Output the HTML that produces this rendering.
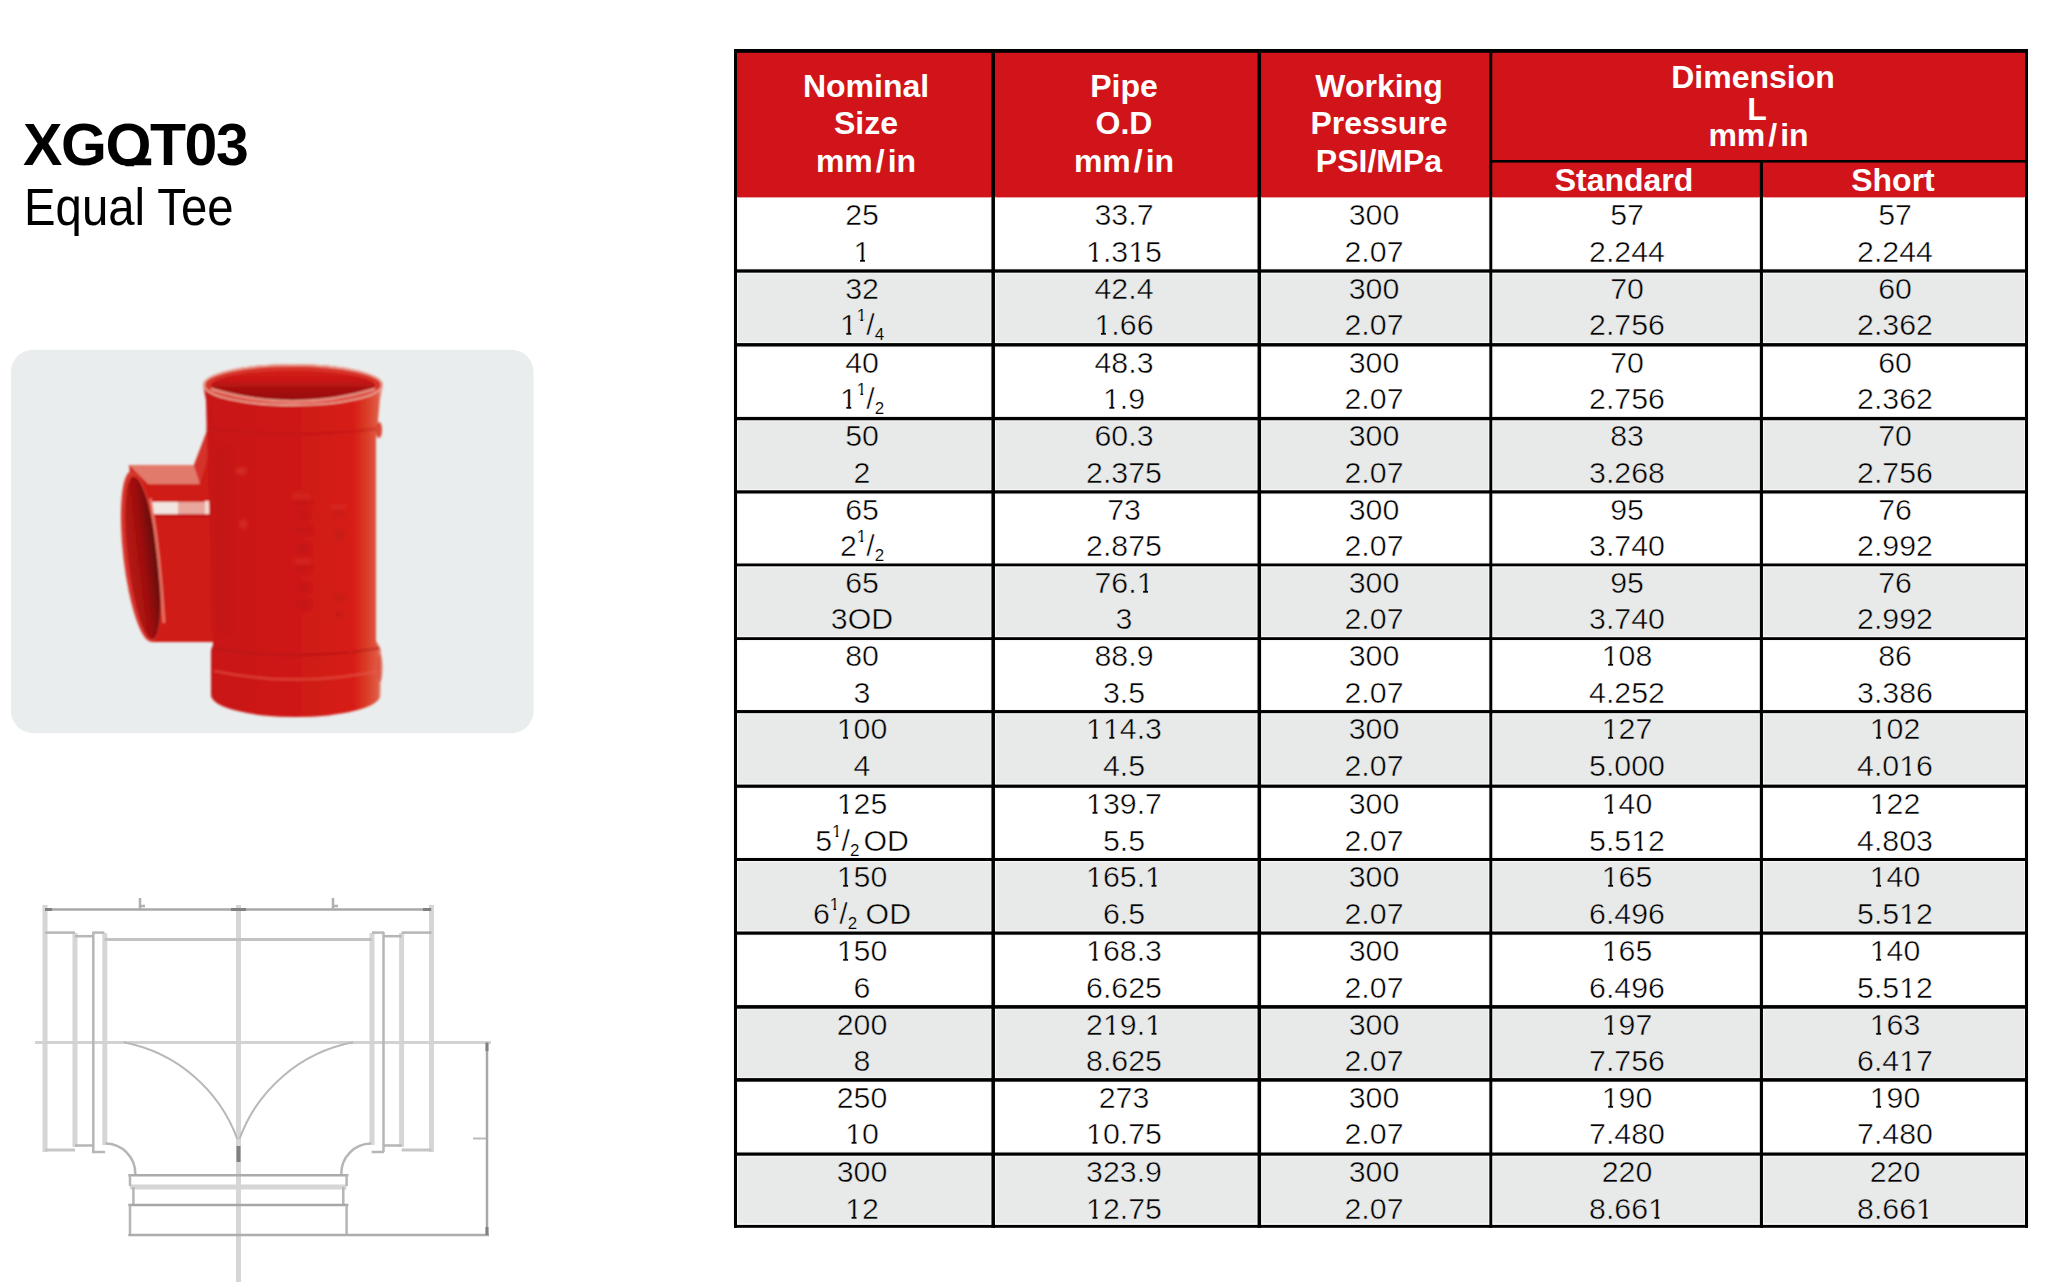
<!DOCTYPE html>
<html><head><meta charset="utf-8">
<style>
html,body{margin:0;padding:0;background:#fff;width:2048px;height:1282px;overflow:hidden;position:relative}
body{font-family:"Liberation Sans",sans-serif}
.r{position:absolute}
.k{background:#000}
.t{position:absolute;width:400px;text-align:center;white-space:nowrap}
.sup{font-size:17px;position:relative;top:-14px;line-height:0;-webkit-text-stroke-width:0.15px}
.sub{font-size:17px;position:relative;top:5px;line-height:0;-webkit-text-stroke-width:0.15px}
.title{position:absolute;white-space:nowrap}
.o{display:inline-block;line-height:1em;clip-path:polygon(0 0,100% 0,100% 0.715em,0.375em 0.715em,0.375em 100%,0.215em 100%,0.215em 0.715em,0 0.715em)}
</style></head><body>
<svg style="position:absolute;left:0;top:0" width="700" height="1282" viewBox="0 0 700 1282">
<defs>
<linearGradient id="gb" x1="0" x2="1" y1="0" y2="0">
<stop offset="0" stop-color="#C81613"/><stop offset="0.2" stop-color="#CB1815"/><stop offset="0.6" stop-color="#D01A17"/><stop offset="0.84" stop-color="#D81E19"/><stop offset="0.9" stop-color="#D93A24"/><stop offset="0.97" stop-color="#E05A44"/><stop offset="1" stop-color="#E8B8AC"/>
</linearGradient>
<linearGradient id="gi" x1="0" x2="0" y1="0" y2="1">
<stop offset="0" stop-color="#D41C1A"/><stop offset="0.35" stop-color="#C81816"/><stop offset="0.6" stop-color="#A81010"/><stop offset="1" stop-color="#960D0D"/>
</linearGradient>
<linearGradient id="gbo" x1="0" x2="1" y1="0" y2="0">
<stop offset="0" stop-color="#B81513"/><stop offset="0.5" stop-color="#A01010"/><stop offset="0.8" stop-color="#7A0B0B"/><stop offset="1" stop-color="#5E0808"/>
</linearGradient>
<filter id="soft" x="-5%" y="-5%" width="110%" height="110%"><feGaussianBlur stdDeviation="0.9"/></filter>
<filter id="soft2" x="-50%" y="-50%" width="200%" height="200%"><feGaussianBlur stdDeviation="2"/></filter>
</defs>
<rect x="11" y="349.8" width="522.5" height="383.4" rx="22" fill="#EAEDED"/>
<g filter="url(#soft)">
<!-- branch -->
<path d="M129,465 L194,465 L208,428 L216,428 L216,642 L151,642 Z" fill="#D01B17"/>
<path d="M129,465 L194,465 L200,484 L148,484 Z" fill="#E27A6C"/>
<path d="M194,465 L208,430 L210,450 L200,484 Z" fill="#D63A30" opacity="0.8"/>
<rect x="151" y="502" width="27" height="12" fill="#F2E6E0"/>
<rect x="178" y="502" width="27" height="12" fill="#E8A69C"/>
<rect x="205" y="501" width="13" height="13" fill="#F4DCD2"/>
<rect x="151" y="514" width="60" height="4" fill="#C01512" opacity="0.7"/>
<g transform="rotate(-6.7 141.4 556.4)">
<ellipse cx="141.4" cy="556.4" rx="18" ry="86" fill="#D8342C"/>
<ellipse cx="142.6" cy="558" rx="15" ry="82" fill="url(#gbo)"/>
<path d="M157,500 Q160,556 156,625" fill="none" stroke="#E87868" stroke-width="2.5"/>
</g>
<!-- main pipe -->
<path d="M203,385 L206,400 L207,440 L213,636 L213,645 L211,650 L211,695 A84.5,22 0 0 0 380.5,695 L381,650 L376,641 L376,440 L380,400 L383,385 Z" fill="url(#gb)"/>
<g fill="#B01412" opacity="0.4" filter="url(#soft2)">
<rect x="296" y="500" width="14" height="5"/><rect x="298" y="512" width="10" height="6"/><rect x="295" y="528" width="16" height="5"/><rect x="297" y="545" width="12" height="8"/><rect x="296" y="566" width="14" height="5"/><rect x="298" y="585" width="11" height="7"/><rect x="296" y="602" width="14" height="6"/>
<rect x="333" y="510" width="12" height="6"/><rect x="335" y="530" width="9" height="10"/><rect x="333" y="595" width="13" height="6"/><rect x="334" y="612" width="10" height="5"/>
</g>
<g fill="#E0483C" opacity="0.5" filter="url(#soft2)">
<rect x="293" y="495" width="18" height="3"/><rect x="295" y="560" width="15" height="3"/><rect x="330" y="506" width="16" height="3"/>
<rect x="236" y="468" width="10" height="6"/><rect x="240" y="520" width="6" height="8"/>
</g>
<rect x="213" y="445" width="22" height="190" fill="#B81412" opacity="0.2" filter="url(#soft2)"/>
<path d="M214,671 Q296,688 379,671" fill="none" stroke="#E86050" stroke-width="2.5" opacity="0.5"/>
<ellipse cx="293" cy="385" rx="90" ry="21" fill="#D8342C"/>
<ellipse cx="293" cy="385" rx="89" ry="20" fill="none" stroke="#EAA494" stroke-width="2"/>
<ellipse cx="293" cy="385.5" rx="82" ry="15" fill="url(#gi)"/>
<path d="M211,389 Q293,414 375,389" fill="none" stroke="#F0A090" stroke-width="2.5" opacity="0.9"/>
<path d="M206,428 Q293,440 381,428" fill="none" stroke="#B81512" stroke-width="3" opacity="0.35"/>
<path d="M212,648 Q296,662 380,648" fill="none" stroke="#B01412" stroke-width="3" opacity="0.4"/>
<ellipse cx="379" cy="430" rx="3" ry="8" fill="#D84A38"/>
<ellipse cx="380" cy="668" rx="2.5" ry="14" fill="#D84A38" opacity="0.7"/>
</g>
<!-- drawing -->
<g fill="none" stroke-linecap="butt">
<g stroke="#D6D6D6" stroke-width="5">
<line x1="45" y1="905" x2="45" y2="1152"/>
<line x1="431.5" y1="905" x2="431.5" y2="1152"/>
<line x1="238.5" y1="905" x2="238.5" y2="1282"/>
<line x1="75" y1="933" x2="75" y2="1147"/>
<line x1="401.6" y1="933" x2="401.6" y2="1147"/>
<line x1="104.8" y1="933" x2="104.8" y2="1145"/>
<line x1="372" y1="933" x2="372" y2="1145"/>
<line x1="130" y1="1187" x2="346.6" y2="1187"/>
</g>
<line x1="35" y1="1042.5" x2="491" y2="1042.5" stroke="#D2D2D2" stroke-width="3"/>
<g stroke="#B6B6B6" stroke-width="2.5">
<line x1="45" y1="909.5" x2="431.5" y2="909.5" stroke="#A8A8A8"/>
<path d="M140,898 V909 M140,906 H145 M333,898 V909 M333,906 H338" stroke="#B0B0B0"/>
<line x1="45" y1="932.6" x2="75" y2="932.6"/>
<line x1="75" y1="936.2" x2="93.3" y2="936.2"/>
<line x1="92.5" y1="932.6" x2="104.4" y2="932.6"/>
<line x1="93.3" y1="932" x2="93.3" y2="1152"/>
<line x1="104.4" y1="939.5" x2="372" y2="939.5" stroke="#C2C2C2" stroke-width="3"/>
<line x1="372" y1="932.6" x2="384" y2="932.6"/>
<line x1="383.5" y1="932" x2="383.5" y2="1152"/>
<line x1="383.5" y1="936.2" x2="401.6" y2="936.2"/>
<line x1="401.6" y1="932.6" x2="431.5" y2="932.6"/>
<line x1="45" y1="1150" x2="75" y2="1150" stroke="#C6C6C6" stroke-width="3"/>
<line x1="75" y1="1145.5" x2="93.3" y2="1145.5"/>
<line x1="92" y1="1152" x2="105" y2="1152"/>
<line x1="401.6" y1="1150" x2="431.5" y2="1150" stroke="#C6C6C6" stroke-width="3"/>
<line x1="383.5" y1="1145.5" x2="401.6" y2="1145.5"/>
<line x1="371.6" y1="1152" x2="384" y2="1152"/>
<path d="M123.6,1042.3 A151.2,151.2 0 0 1 237.3,1139" stroke="#B8B8B8" stroke-width="2"/>
<path d="M353,1042.3 A151.2,151.2 0 0 0 239.5,1139" stroke="#B8B8B8" stroke-width="2"/>
<path d="M105.5,1143.5 A30,30 0 0 1 135.3,1174"/>
<path d="M371,1143.5 A30,30 0 0 0 341.3,1174"/>
<line x1="128.3" y1="1175.3" x2="348.4" y2="1175.3" stroke="#ABABAB"/>
<line x1="130" y1="1175" x2="130" y2="1186"/>
<line x1="346.6" y1="1175" x2="346.6" y2="1186"/>
<line x1="133.4" y1="1187" x2="133.4" y2="1205"/>
<line x1="343.3" y1="1187" x2="343.3" y2="1205"/>
<line x1="128.3" y1="1205" x2="348.4" y2="1205" stroke="#A6A6A6"/>
<line x1="130" y1="1205" x2="130" y2="1235"/>
<line x1="346.6" y1="1205" x2="346.6" y2="1235"/>
<line x1="128.3" y1="1235" x2="489" y2="1235" stroke="#ADADAD"/>
<line x1="487" y1="1042" x2="487" y2="1235" stroke="#A8A8A8"/>
<line x1="473" y1="1138.5" x2="486" y2="1138.5" stroke="#BBBBBB" stroke-width="2"/>
</g>
<g stroke="#808080" stroke-width="3">
<line x1="45" y1="909.5" x2="52" y2="909.5"/>
<line x1="231" y1="909.5" x2="246" y2="909.5"/>
<line x1="423" y1="909.5" x2="431" y2="909.5"/>
<line x1="487" y1="1043" x2="487" y2="1051"/>
<line x1="487" y1="1227" x2="487" y2="1235"/>
<line x1="238.5" y1="1146" x2="238.5" y2="1162" stroke-width="4"/>
</g>
</g>
</svg>

<div class="title" style="left:23px;top:116.3px;font-size:59px;line-height:59px;font-weight:700;letter-spacing:-1.4px;clip-path:inset(0 0 9px 0)">XGQT03</div>
<svg style="position:absolute;left:0;top:0" width="300" height="200"><polygon points="136,158.6 151.2,158.6 151.2,165.2 132,165.2" fill="#000"/></svg>
<div class="title" style="left:24px;top:181.5px;font-size:51px;line-height:51px;transform:scaleX(0.928);transform-origin:0 0">Equal Tee</div>
<svg style="position:absolute;left:0;top:0" width="2048" height="1282"><rect x="734" y="49" width="1294" height="148.4" fill="#D1131A"/><rect x="734" y="271.00" width="1294" height="73.80" fill="#E8EAE9"/><rect x="734" y="418.60" width="1294" height="73.30" fill="#E8EAE9"/><rect x="734" y="564.90" width="1294" height="73.70" fill="#E8EAE9"/><rect x="734" y="711.60" width="1294" height="74.60" fill="#E8EAE9"/><rect x="734" y="859.50" width="1294" height="73.60" fill="#E8EAE9"/><rect x="734" y="1006.90" width="1294" height="73.00" fill="#E8EAE9"/><rect x="734" y="1154.10" width="1294" height="72.20" fill="#E8EAE9"/><rect x="733.00" y="197.4" width="5.00" height="1030" fill="#F6F7F6"/><rect x="990.45" y="197.4" width="5.50" height="1030" fill="#F6F7F6"/><rect x="1256.55" y="197.4" width="5.50" height="1030" fill="#F6F7F6"/><rect x="1488.35" y="197.4" width="4.90" height="1030" fill="#F6F7F6"/><rect x="1758.85" y="197.4" width="5.10" height="1030" fill="#F6F7F6"/><rect x="2024.00" y="197.4" width="5.00" height="1030" fill="#F6F7F6"/><rect x="734" y="268.25" width="1294" height="5.50" fill="#F6F7F6"/><rect x="734" y="342.05" width="1294" height="5.50" fill="#F6F7F6"/><rect x="734" y="415.85" width="1294" height="5.50" fill="#F6F7F6"/><rect x="734" y="489.15" width="1294" height="5.50" fill="#F6F7F6"/><rect x="734" y="562.15" width="1294" height="5.50" fill="#F6F7F6"/><rect x="734" y="635.85" width="1294" height="5.50" fill="#F6F7F6"/><rect x="734" y="708.85" width="1294" height="5.50" fill="#F6F7F6"/><rect x="734" y="783.45" width="1294" height="5.50" fill="#F6F7F6"/><rect x="734" y="856.75" width="1294" height="5.50" fill="#F6F7F6"/><rect x="734" y="930.35" width="1294" height="5.50" fill="#F6F7F6"/><rect x="734" y="1004.15" width="1294" height="5.50" fill="#F6F7F6"/><rect x="734" y="1077.15" width="1294" height="5.50" fill="#F6F7F6"/><rect x="734" y="1151.35" width="1294" height="5.50" fill="#F6F7F6"/><rect x="734" y="1223.60" width="1294" height="4.20" fill="#fff"/><rect x="734" y="49" width="1294" height="3.8" fill="#000"/><rect x="1490" y="160" width="538" height="2.6" fill="#000"/><rect x="734" y="269.35" width="1294" height="3.3" fill="#000"/><rect x="734" y="343.10" width="1294" height="3.4" fill="#000"/><rect x="734" y="416.95" width="1294" height="3.3" fill="#000"/><rect x="734" y="490.30" width="1294" height="3.2" fill="#000"/><rect x="734" y="563.50" width="1294" height="2.8" fill="#000"/><rect x="734" y="637.20" width="1294" height="2.8" fill="#000"/><rect x="734" y="710.05" width="1294" height="3.1" fill="#000"/><rect x="734" y="784.60" width="1294" height="3.2" fill="#000"/><rect x="734" y="858.00" width="1294" height="3.0" fill="#000"/><rect x="734" y="931.50" width="1294" height="3.2" fill="#000"/><rect x="734" y="1005.10" width="1294" height="3.6" fill="#000"/><rect x="734" y="1078.10" width="1294" height="3.6" fill="#000"/><rect x="734" y="1152.50" width="1294" height="3.2" fill="#000"/><rect x="734" y="1224.9" width="1294" height="2.9" fill="#000"/><rect x="734.00" y="49" width="3" height="1178.80" fill="#000"/><rect x="991.45" y="49" width="3.5" height="1178.80" fill="#000"/><rect x="1257.55" y="49" width="3.5" height="1178.80" fill="#000"/><rect x="1489.35" y="49" width="2.9" height="1178.80" fill="#000"/><rect x="1759.85" y="160" width="3.1" height="1067.80" fill="#000"/><rect x="2025.00" y="49" width="3" height="1178.80" fill="#000"/></svg>
<div class="t" style="left:666.0px;top:69.9px;font-size:32px;line-height:32px;font-weight:700;color:#fff;">Nominal</div>
<div class="t" style="left:666.0px;top:107.2px;font-size:32px;line-height:32px;font-weight:700;color:#fff;">Size</div>
<div class="t" style="left:666.0px;top:144.5px;font-size:32px;line-height:32px;font-weight:700;color:#fff;">mm<span style="margin:0 3px">/</span>in</div>
<div class="t" style="left:924.0px;top:69.9px;font-size:32px;line-height:32px;font-weight:700;color:#fff;">Pipe</div>
<div class="t" style="left:924.0px;top:107.2px;font-size:32px;line-height:32px;font-weight:700;color:#fff;">O.D</div>
<div class="t" style="left:924.0px;top:144.5px;font-size:32px;line-height:32px;font-weight:700;color:#fff;">mm<span style="margin:0 3px">/</span>in</div>
<div class="t" style="left:1179.0px;top:69.9px;font-size:32px;line-height:32px;font-weight:700;color:#fff;">Working</div>
<div class="t" style="left:1179.0px;top:107.2px;font-size:32px;line-height:32px;font-weight:700;color:#fff;">Pressure</div>
<div class="t" style="left:1179.0px;top:144.5px;font-size:32px;line-height:32px;font-weight:700;color:#fff;">PSI/MPa</div>
<div class="t" style="left:1553.0px;top:61.1px;font-size:32px;line-height:32px;font-weight:700;color:#fff;">Dimension</div>
<div class="t" style="left:1557.0px;top:92.9px;font-size:32px;line-height:32px;font-weight:700;color:#fff;">L</div>
<div class="t" style="left:1558.5px;top:118.9px;font-size:32px;line-height:32px;font-weight:700;color:#fff;">mm<span style="margin:0 3px">/</span>in</div>
<div class="t" style="left:1424.0px;top:163.6px;font-size:32px;line-height:32px;font-weight:700;color:#fff;">Standard</div>
<div class="t" style="left:1693.0px;top:163.6px;font-size:32px;line-height:32px;font-weight:700;color:#fff;">Short</div>
<div class="t" style="left:662.0px;top:200.2px;font-size:30.3px;line-height:30.3px;font-weight:400;color:#000;-webkit-text-stroke:0.5px #fff;">25</div>
<div class="t" style="left:662.0px;top:236.9px;font-size:30.3px;line-height:30.3px;font-weight:400;color:#000;-webkit-text-stroke:0.5px #fff;"><span class="o">1</span></div>
<div class="t" style="left:924.0px;top:200.2px;font-size:30.3px;line-height:30.3px;font-weight:400;color:#000;-webkit-text-stroke:0.5px #fff;">33.7</div>
<div class="t" style="left:924.0px;top:236.9px;font-size:30.3px;line-height:30.3px;font-weight:400;color:#000;-webkit-text-stroke:0.5px #fff;"><span class="o">1</span>.3<span class="o">1</span>5</div>
<div class="t" style="left:1174.0px;top:200.2px;font-size:30.3px;line-height:30.3px;font-weight:400;color:#000;-webkit-text-stroke:0.5px #fff;">300</div>
<div class="t" style="left:1174.0px;top:236.9px;font-size:30.3px;line-height:30.3px;font-weight:400;color:#000;-webkit-text-stroke:0.5px #fff;">2.07</div>
<div class="t" style="left:1427.0px;top:200.2px;font-size:30.3px;line-height:30.3px;font-weight:400;color:#000;-webkit-text-stroke:0.5px #fff;">57</div>
<div class="t" style="left:1427.0px;top:236.9px;font-size:30.3px;line-height:30.3px;font-weight:400;color:#000;-webkit-text-stroke:0.5px #fff;">2.244</div>
<div class="t" style="left:1695.0px;top:200.2px;font-size:30.3px;line-height:30.3px;font-weight:400;color:#000;-webkit-text-stroke:0.5px #fff;">57</div>
<div class="t" style="left:1695.0px;top:236.9px;font-size:30.3px;line-height:30.3px;font-weight:400;color:#000;-webkit-text-stroke:0.5px #fff;">2.244</div>
<div class="t" style="left:662.0px;top:273.7px;font-size:30.3px;line-height:30.3px;font-weight:400;color:#000;-webkit-text-stroke:0.5px #E8EAE9;">32</div>
<div class="t" style="left:662.0px;top:310.4px;font-size:30.3px;line-height:30.3px;font-weight:400;color:#000;-webkit-text-stroke:0.5px #E8EAE9;"><span class="o">1</span><span class="sup"><span class="o">1</span></span>/<span class="sub">4</span></div>
<div class="t" style="left:924.0px;top:273.7px;font-size:30.3px;line-height:30.3px;font-weight:400;color:#000;-webkit-text-stroke:0.5px #E8EAE9;">42.4</div>
<div class="t" style="left:924.0px;top:310.4px;font-size:30.3px;line-height:30.3px;font-weight:400;color:#000;-webkit-text-stroke:0.5px #E8EAE9;"><span class="o">1</span>.66</div>
<div class="t" style="left:1174.0px;top:273.7px;font-size:30.3px;line-height:30.3px;font-weight:400;color:#000;-webkit-text-stroke:0.5px #E8EAE9;">300</div>
<div class="t" style="left:1174.0px;top:310.4px;font-size:30.3px;line-height:30.3px;font-weight:400;color:#000;-webkit-text-stroke:0.5px #E8EAE9;">2.07</div>
<div class="t" style="left:1427.0px;top:273.7px;font-size:30.3px;line-height:30.3px;font-weight:400;color:#000;-webkit-text-stroke:0.5px #E8EAE9;">70</div>
<div class="t" style="left:1427.0px;top:310.4px;font-size:30.3px;line-height:30.3px;font-weight:400;color:#000;-webkit-text-stroke:0.5px #E8EAE9;">2.756</div>
<div class="t" style="left:1695.0px;top:273.7px;font-size:30.3px;line-height:30.3px;font-weight:400;color:#000;-webkit-text-stroke:0.5px #E8EAE9;">60</div>
<div class="t" style="left:1695.0px;top:310.4px;font-size:30.3px;line-height:30.3px;font-weight:400;color:#000;-webkit-text-stroke:0.5px #E8EAE9;">2.362</div>
<div class="t" style="left:662.0px;top:347.5px;font-size:30.3px;line-height:30.3px;font-weight:400;color:#000;-webkit-text-stroke:0.5px #fff;">40</div>
<div class="t" style="left:662.0px;top:384.2px;font-size:30.3px;line-height:30.3px;font-weight:400;color:#000;-webkit-text-stroke:0.5px #fff;"><span class="o">1</span><span class="sup"><span class="o">1</span></span>/<span class="sub">2</span></div>
<div class="t" style="left:924.0px;top:347.5px;font-size:30.3px;line-height:30.3px;font-weight:400;color:#000;-webkit-text-stroke:0.5px #fff;">48.3</div>
<div class="t" style="left:924.0px;top:384.2px;font-size:30.3px;line-height:30.3px;font-weight:400;color:#000;-webkit-text-stroke:0.5px #fff;"><span class="o">1</span>.9</div>
<div class="t" style="left:1174.0px;top:347.5px;font-size:30.3px;line-height:30.3px;font-weight:400;color:#000;-webkit-text-stroke:0.5px #fff;">300</div>
<div class="t" style="left:1174.0px;top:384.2px;font-size:30.3px;line-height:30.3px;font-weight:400;color:#000;-webkit-text-stroke:0.5px #fff;">2.07</div>
<div class="t" style="left:1427.0px;top:347.5px;font-size:30.3px;line-height:30.3px;font-weight:400;color:#000;-webkit-text-stroke:0.5px #fff;">70</div>
<div class="t" style="left:1427.0px;top:384.2px;font-size:30.3px;line-height:30.3px;font-weight:400;color:#000;-webkit-text-stroke:0.5px #fff;">2.756</div>
<div class="t" style="left:1695.0px;top:347.5px;font-size:30.3px;line-height:30.3px;font-weight:400;color:#000;-webkit-text-stroke:0.5px #fff;">60</div>
<div class="t" style="left:1695.0px;top:384.2px;font-size:30.3px;line-height:30.3px;font-weight:400;color:#000;-webkit-text-stroke:0.5px #fff;">2.362</div>
<div class="t" style="left:662.0px;top:421.3px;font-size:30.3px;line-height:30.3px;font-weight:400;color:#000;-webkit-text-stroke:0.5px #E8EAE9;">50</div>
<div class="t" style="left:662.0px;top:458.0px;font-size:30.3px;line-height:30.3px;font-weight:400;color:#000;-webkit-text-stroke:0.5px #E8EAE9;">2</div>
<div class="t" style="left:924.0px;top:421.3px;font-size:30.3px;line-height:30.3px;font-weight:400;color:#000;-webkit-text-stroke:0.5px #E8EAE9;">60.3</div>
<div class="t" style="left:924.0px;top:458.0px;font-size:30.3px;line-height:30.3px;font-weight:400;color:#000;-webkit-text-stroke:0.5px #E8EAE9;">2.375</div>
<div class="t" style="left:1174.0px;top:421.3px;font-size:30.3px;line-height:30.3px;font-weight:400;color:#000;-webkit-text-stroke:0.5px #E8EAE9;">300</div>
<div class="t" style="left:1174.0px;top:458.0px;font-size:30.3px;line-height:30.3px;font-weight:400;color:#000;-webkit-text-stroke:0.5px #E8EAE9;">2.07</div>
<div class="t" style="left:1427.0px;top:421.3px;font-size:30.3px;line-height:30.3px;font-weight:400;color:#000;-webkit-text-stroke:0.5px #E8EAE9;">83</div>
<div class="t" style="left:1427.0px;top:458.0px;font-size:30.3px;line-height:30.3px;font-weight:400;color:#000;-webkit-text-stroke:0.5px #E8EAE9;">3.268</div>
<div class="t" style="left:1695.0px;top:421.3px;font-size:30.3px;line-height:30.3px;font-weight:400;color:#000;-webkit-text-stroke:0.5px #E8EAE9;">70</div>
<div class="t" style="left:1695.0px;top:458.0px;font-size:30.3px;line-height:30.3px;font-weight:400;color:#000;-webkit-text-stroke:0.5px #E8EAE9;">2.756</div>
<div class="t" style="left:662.0px;top:494.6px;font-size:30.3px;line-height:30.3px;font-weight:400;color:#000;-webkit-text-stroke:0.5px #fff;">65</div>
<div class="t" style="left:662.0px;top:531.3px;font-size:30.3px;line-height:30.3px;font-weight:400;color:#000;-webkit-text-stroke:0.5px #fff;">2<span class="sup"><span class="o">1</span></span>/<span class="sub">2</span></div>
<div class="t" style="left:924.0px;top:494.6px;font-size:30.3px;line-height:30.3px;font-weight:400;color:#000;-webkit-text-stroke:0.5px #fff;">73</div>
<div class="t" style="left:924.0px;top:531.3px;font-size:30.3px;line-height:30.3px;font-weight:400;color:#000;-webkit-text-stroke:0.5px #fff;">2.875</div>
<div class="t" style="left:1174.0px;top:494.6px;font-size:30.3px;line-height:30.3px;font-weight:400;color:#000;-webkit-text-stroke:0.5px #fff;">300</div>
<div class="t" style="left:1174.0px;top:531.3px;font-size:30.3px;line-height:30.3px;font-weight:400;color:#000;-webkit-text-stroke:0.5px #fff;">2.07</div>
<div class="t" style="left:1427.0px;top:494.6px;font-size:30.3px;line-height:30.3px;font-weight:400;color:#000;-webkit-text-stroke:0.5px #fff;">95</div>
<div class="t" style="left:1427.0px;top:531.3px;font-size:30.3px;line-height:30.3px;font-weight:400;color:#000;-webkit-text-stroke:0.5px #fff;">3.740</div>
<div class="t" style="left:1695.0px;top:494.6px;font-size:30.3px;line-height:30.3px;font-weight:400;color:#000;-webkit-text-stroke:0.5px #fff;">76</div>
<div class="t" style="left:1695.0px;top:531.3px;font-size:30.3px;line-height:30.3px;font-weight:400;color:#000;-webkit-text-stroke:0.5px #fff;">2.992</div>
<div class="t" style="left:662.0px;top:567.6px;font-size:30.3px;line-height:30.3px;font-weight:400;color:#000;-webkit-text-stroke:0.5px #E8EAE9;">65</div>
<div class="t" style="left:662.0px;top:604.3px;font-size:30.3px;line-height:30.3px;font-weight:400;color:#000;-webkit-text-stroke:0.5px #E8EAE9;">3OD</div>
<div class="t" style="left:924.0px;top:567.6px;font-size:30.3px;line-height:30.3px;font-weight:400;color:#000;-webkit-text-stroke:0.5px #E8EAE9;">76.<span class="o">1</span></div>
<div class="t" style="left:924.0px;top:604.3px;font-size:30.3px;line-height:30.3px;font-weight:400;color:#000;-webkit-text-stroke:0.5px #E8EAE9;">3</div>
<div class="t" style="left:1174.0px;top:567.6px;font-size:30.3px;line-height:30.3px;font-weight:400;color:#000;-webkit-text-stroke:0.5px #E8EAE9;">300</div>
<div class="t" style="left:1174.0px;top:604.3px;font-size:30.3px;line-height:30.3px;font-weight:400;color:#000;-webkit-text-stroke:0.5px #E8EAE9;">2.07</div>
<div class="t" style="left:1427.0px;top:567.6px;font-size:30.3px;line-height:30.3px;font-weight:400;color:#000;-webkit-text-stroke:0.5px #E8EAE9;">95</div>
<div class="t" style="left:1427.0px;top:604.3px;font-size:30.3px;line-height:30.3px;font-weight:400;color:#000;-webkit-text-stroke:0.5px #E8EAE9;">3.740</div>
<div class="t" style="left:1695.0px;top:567.6px;font-size:30.3px;line-height:30.3px;font-weight:400;color:#000;-webkit-text-stroke:0.5px #E8EAE9;">76</div>
<div class="t" style="left:1695.0px;top:604.3px;font-size:30.3px;line-height:30.3px;font-weight:400;color:#000;-webkit-text-stroke:0.5px #E8EAE9;">2.992</div>
<div class="t" style="left:662.0px;top:641.3px;font-size:30.3px;line-height:30.3px;font-weight:400;color:#000;-webkit-text-stroke:0.5px #fff;">80</div>
<div class="t" style="left:662.0px;top:678.0px;font-size:30.3px;line-height:30.3px;font-weight:400;color:#000;-webkit-text-stroke:0.5px #fff;">3</div>
<div class="t" style="left:924.0px;top:641.3px;font-size:30.3px;line-height:30.3px;font-weight:400;color:#000;-webkit-text-stroke:0.5px #fff;">88.9</div>
<div class="t" style="left:924.0px;top:678.0px;font-size:30.3px;line-height:30.3px;font-weight:400;color:#000;-webkit-text-stroke:0.5px #fff;">3.5</div>
<div class="t" style="left:1174.0px;top:641.3px;font-size:30.3px;line-height:30.3px;font-weight:400;color:#000;-webkit-text-stroke:0.5px #fff;">300</div>
<div class="t" style="left:1174.0px;top:678.0px;font-size:30.3px;line-height:30.3px;font-weight:400;color:#000;-webkit-text-stroke:0.5px #fff;">2.07</div>
<div class="t" style="left:1427.0px;top:641.3px;font-size:30.3px;line-height:30.3px;font-weight:400;color:#000;-webkit-text-stroke:0.5px #fff;"><span class="o">1</span>08</div>
<div class="t" style="left:1427.0px;top:678.0px;font-size:30.3px;line-height:30.3px;font-weight:400;color:#000;-webkit-text-stroke:0.5px #fff;">4.252</div>
<div class="t" style="left:1695.0px;top:641.3px;font-size:30.3px;line-height:30.3px;font-weight:400;color:#000;-webkit-text-stroke:0.5px #fff;">86</div>
<div class="t" style="left:1695.0px;top:678.0px;font-size:30.3px;line-height:30.3px;font-weight:400;color:#000;-webkit-text-stroke:0.5px #fff;">3.386</div>
<div class="t" style="left:662.0px;top:714.3px;font-size:30.3px;line-height:30.3px;font-weight:400;color:#000;-webkit-text-stroke:0.5px #E8EAE9;"><span class="o">1</span>00</div>
<div class="t" style="left:662.0px;top:751.0px;font-size:30.3px;line-height:30.3px;font-weight:400;color:#000;-webkit-text-stroke:0.5px #E8EAE9;">4</div>
<div class="t" style="left:924.0px;top:714.3px;font-size:30.3px;line-height:30.3px;font-weight:400;color:#000;-webkit-text-stroke:0.5px #E8EAE9;"><span class="o">1</span><span class="o">1</span>4.3</div>
<div class="t" style="left:924.0px;top:751.0px;font-size:30.3px;line-height:30.3px;font-weight:400;color:#000;-webkit-text-stroke:0.5px #E8EAE9;">4.5</div>
<div class="t" style="left:1174.0px;top:714.3px;font-size:30.3px;line-height:30.3px;font-weight:400;color:#000;-webkit-text-stroke:0.5px #E8EAE9;">300</div>
<div class="t" style="left:1174.0px;top:751.0px;font-size:30.3px;line-height:30.3px;font-weight:400;color:#000;-webkit-text-stroke:0.5px #E8EAE9;">2.07</div>
<div class="t" style="left:1427.0px;top:714.3px;font-size:30.3px;line-height:30.3px;font-weight:400;color:#000;-webkit-text-stroke:0.5px #E8EAE9;"><span class="o">1</span>27</div>
<div class="t" style="left:1427.0px;top:751.0px;font-size:30.3px;line-height:30.3px;font-weight:400;color:#000;-webkit-text-stroke:0.5px #E8EAE9;">5.000</div>
<div class="t" style="left:1695.0px;top:714.3px;font-size:30.3px;line-height:30.3px;font-weight:400;color:#000;-webkit-text-stroke:0.5px #E8EAE9;"><span class="o">1</span>02</div>
<div class="t" style="left:1695.0px;top:751.0px;font-size:30.3px;line-height:30.3px;font-weight:400;color:#000;-webkit-text-stroke:0.5px #E8EAE9;">4.0<span class="o">1</span>6</div>
<div class="t" style="left:662.0px;top:788.9px;font-size:30.3px;line-height:30.3px;font-weight:400;color:#000;-webkit-text-stroke:0.5px #fff;"><span class="o">1</span>25</div>
<div class="t" style="left:662.0px;top:825.6px;font-size:30.3px;line-height:30.3px;font-weight:400;color:#000;-webkit-text-stroke:0.5px #fff;">5<span class="sup"><span class="o">1</span></span>/<span class="sub">2</span><span style="margin-left:4px">OD</span></div>
<div class="t" style="left:924.0px;top:788.9px;font-size:30.3px;line-height:30.3px;font-weight:400;color:#000;-webkit-text-stroke:0.5px #fff;"><span class="o">1</span>39.7</div>
<div class="t" style="left:924.0px;top:825.6px;font-size:30.3px;line-height:30.3px;font-weight:400;color:#000;-webkit-text-stroke:0.5px #fff;">5.5</div>
<div class="t" style="left:1174.0px;top:788.9px;font-size:30.3px;line-height:30.3px;font-weight:400;color:#000;-webkit-text-stroke:0.5px #fff;">300</div>
<div class="t" style="left:1174.0px;top:825.6px;font-size:30.3px;line-height:30.3px;font-weight:400;color:#000;-webkit-text-stroke:0.5px #fff;">2.07</div>
<div class="t" style="left:1427.0px;top:788.9px;font-size:30.3px;line-height:30.3px;font-weight:400;color:#000;-webkit-text-stroke:0.5px #fff;"><span class="o">1</span>40</div>
<div class="t" style="left:1427.0px;top:825.6px;font-size:30.3px;line-height:30.3px;font-weight:400;color:#000;-webkit-text-stroke:0.5px #fff;">5.5<span class="o">1</span>2</div>
<div class="t" style="left:1695.0px;top:788.9px;font-size:30.3px;line-height:30.3px;font-weight:400;color:#000;-webkit-text-stroke:0.5px #fff;"><span class="o">1</span>22</div>
<div class="t" style="left:1695.0px;top:825.6px;font-size:30.3px;line-height:30.3px;font-weight:400;color:#000;-webkit-text-stroke:0.5px #fff;">4.803</div>
<div class="t" style="left:662.0px;top:862.2px;font-size:30.3px;line-height:30.3px;font-weight:400;color:#000;-webkit-text-stroke:0.5px #E8EAE9;"><span class="o">1</span>50</div>
<div class="t" style="left:662.0px;top:898.9px;font-size:30.3px;line-height:30.3px;font-weight:400;color:#000;-webkit-text-stroke:0.5px #E8EAE9;">6<span class="sup"><span class="o">1</span></span>/<span class="sub">2</span> OD</div>
<div class="t" style="left:924.0px;top:862.2px;font-size:30.3px;line-height:30.3px;font-weight:400;color:#000;-webkit-text-stroke:0.5px #E8EAE9;"><span class="o">1</span>65.<span class="o">1</span></div>
<div class="t" style="left:924.0px;top:898.9px;font-size:30.3px;line-height:30.3px;font-weight:400;color:#000;-webkit-text-stroke:0.5px #E8EAE9;">6.5</div>
<div class="t" style="left:1174.0px;top:862.2px;font-size:30.3px;line-height:30.3px;font-weight:400;color:#000;-webkit-text-stroke:0.5px #E8EAE9;">300</div>
<div class="t" style="left:1174.0px;top:898.9px;font-size:30.3px;line-height:30.3px;font-weight:400;color:#000;-webkit-text-stroke:0.5px #E8EAE9;">2.07</div>
<div class="t" style="left:1427.0px;top:862.2px;font-size:30.3px;line-height:30.3px;font-weight:400;color:#000;-webkit-text-stroke:0.5px #E8EAE9;"><span class="o">1</span>65</div>
<div class="t" style="left:1427.0px;top:898.9px;font-size:30.3px;line-height:30.3px;font-weight:400;color:#000;-webkit-text-stroke:0.5px #E8EAE9;">6.496</div>
<div class="t" style="left:1695.0px;top:862.2px;font-size:30.3px;line-height:30.3px;font-weight:400;color:#000;-webkit-text-stroke:0.5px #E8EAE9;"><span class="o">1</span>40</div>
<div class="t" style="left:1695.0px;top:898.9px;font-size:30.3px;line-height:30.3px;font-weight:400;color:#000;-webkit-text-stroke:0.5px #E8EAE9;">5.5<span class="o">1</span>2</div>
<div class="t" style="left:662.0px;top:935.8px;font-size:30.3px;line-height:30.3px;font-weight:400;color:#000;-webkit-text-stroke:0.5px #fff;"><span class="o">1</span>50</div>
<div class="t" style="left:662.0px;top:972.5px;font-size:30.3px;line-height:30.3px;font-weight:400;color:#000;-webkit-text-stroke:0.5px #fff;">6</div>
<div class="t" style="left:924.0px;top:935.8px;font-size:30.3px;line-height:30.3px;font-weight:400;color:#000;-webkit-text-stroke:0.5px #fff;"><span class="o">1</span>68.3</div>
<div class="t" style="left:924.0px;top:972.5px;font-size:30.3px;line-height:30.3px;font-weight:400;color:#000;-webkit-text-stroke:0.5px #fff;">6.625</div>
<div class="t" style="left:1174.0px;top:935.8px;font-size:30.3px;line-height:30.3px;font-weight:400;color:#000;-webkit-text-stroke:0.5px #fff;">300</div>
<div class="t" style="left:1174.0px;top:972.5px;font-size:30.3px;line-height:30.3px;font-weight:400;color:#000;-webkit-text-stroke:0.5px #fff;">2.07</div>
<div class="t" style="left:1427.0px;top:935.8px;font-size:30.3px;line-height:30.3px;font-weight:400;color:#000;-webkit-text-stroke:0.5px #fff;"><span class="o">1</span>65</div>
<div class="t" style="left:1427.0px;top:972.5px;font-size:30.3px;line-height:30.3px;font-weight:400;color:#000;-webkit-text-stroke:0.5px #fff;">6.496</div>
<div class="t" style="left:1695.0px;top:935.8px;font-size:30.3px;line-height:30.3px;font-weight:400;color:#000;-webkit-text-stroke:0.5px #fff;"><span class="o">1</span>40</div>
<div class="t" style="left:1695.0px;top:972.5px;font-size:30.3px;line-height:30.3px;font-weight:400;color:#000;-webkit-text-stroke:0.5px #fff;">5.5<span class="o">1</span>2</div>
<div class="t" style="left:662.0px;top:1009.6px;font-size:30.3px;line-height:30.3px;font-weight:400;color:#000;-webkit-text-stroke:0.5px #E8EAE9;">200</div>
<div class="t" style="left:662.0px;top:1046.3px;font-size:30.3px;line-height:30.3px;font-weight:400;color:#000;-webkit-text-stroke:0.5px #E8EAE9;">8</div>
<div class="t" style="left:924.0px;top:1009.6px;font-size:30.3px;line-height:30.3px;font-weight:400;color:#000;-webkit-text-stroke:0.5px #E8EAE9;">2<span class="o">1</span>9.<span class="o">1</span></div>
<div class="t" style="left:924.0px;top:1046.3px;font-size:30.3px;line-height:30.3px;font-weight:400;color:#000;-webkit-text-stroke:0.5px #E8EAE9;">8.625</div>
<div class="t" style="left:1174.0px;top:1009.6px;font-size:30.3px;line-height:30.3px;font-weight:400;color:#000;-webkit-text-stroke:0.5px #E8EAE9;">300</div>
<div class="t" style="left:1174.0px;top:1046.3px;font-size:30.3px;line-height:30.3px;font-weight:400;color:#000;-webkit-text-stroke:0.5px #E8EAE9;">2.07</div>
<div class="t" style="left:1427.0px;top:1009.6px;font-size:30.3px;line-height:30.3px;font-weight:400;color:#000;-webkit-text-stroke:0.5px #E8EAE9;"><span class="o">1</span>97</div>
<div class="t" style="left:1427.0px;top:1046.3px;font-size:30.3px;line-height:30.3px;font-weight:400;color:#000;-webkit-text-stroke:0.5px #E8EAE9;">7.756</div>
<div class="t" style="left:1695.0px;top:1009.6px;font-size:30.3px;line-height:30.3px;font-weight:400;color:#000;-webkit-text-stroke:0.5px #E8EAE9;"><span class="o">1</span>63</div>
<div class="t" style="left:1695.0px;top:1046.3px;font-size:30.3px;line-height:30.3px;font-weight:400;color:#000;-webkit-text-stroke:0.5px #E8EAE9;">6.4<span class="o">1</span>7</div>
<div class="t" style="left:662.0px;top:1082.6px;font-size:30.3px;line-height:30.3px;font-weight:400;color:#000;-webkit-text-stroke:0.5px #fff;">250</div>
<div class="t" style="left:662.0px;top:1119.3px;font-size:30.3px;line-height:30.3px;font-weight:400;color:#000;-webkit-text-stroke:0.5px #fff;"><span class="o">1</span>0</div>
<div class="t" style="left:924.0px;top:1082.6px;font-size:30.3px;line-height:30.3px;font-weight:400;color:#000;-webkit-text-stroke:0.5px #fff;">273</div>
<div class="t" style="left:924.0px;top:1119.3px;font-size:30.3px;line-height:30.3px;font-weight:400;color:#000;-webkit-text-stroke:0.5px #fff;"><span class="o">1</span>0.75</div>
<div class="t" style="left:1174.0px;top:1082.6px;font-size:30.3px;line-height:30.3px;font-weight:400;color:#000;-webkit-text-stroke:0.5px #fff;">300</div>
<div class="t" style="left:1174.0px;top:1119.3px;font-size:30.3px;line-height:30.3px;font-weight:400;color:#000;-webkit-text-stroke:0.5px #fff;">2.07</div>
<div class="t" style="left:1427.0px;top:1082.6px;font-size:30.3px;line-height:30.3px;font-weight:400;color:#000;-webkit-text-stroke:0.5px #fff;"><span class="o">1</span>90</div>
<div class="t" style="left:1427.0px;top:1119.3px;font-size:30.3px;line-height:30.3px;font-weight:400;color:#000;-webkit-text-stroke:0.5px #fff;">7.480</div>
<div class="t" style="left:1695.0px;top:1082.6px;font-size:30.3px;line-height:30.3px;font-weight:400;color:#000;-webkit-text-stroke:0.5px #fff;"><span class="o">1</span>90</div>
<div class="t" style="left:1695.0px;top:1119.3px;font-size:30.3px;line-height:30.3px;font-weight:400;color:#000;-webkit-text-stroke:0.5px #fff;">7.480</div>
<div class="t" style="left:662.0px;top:1156.8px;font-size:30.3px;line-height:30.3px;font-weight:400;color:#000;-webkit-text-stroke:0.5px #E8EAE9;">300</div>
<div class="t" style="left:662.0px;top:1193.5px;font-size:30.3px;line-height:30.3px;font-weight:400;color:#000;-webkit-text-stroke:0.5px #E8EAE9;"><span class="o">1</span>2</div>
<div class="t" style="left:924.0px;top:1156.8px;font-size:30.3px;line-height:30.3px;font-weight:400;color:#000;-webkit-text-stroke:0.5px #E8EAE9;">323.9</div>
<div class="t" style="left:924.0px;top:1193.5px;font-size:30.3px;line-height:30.3px;font-weight:400;color:#000;-webkit-text-stroke:0.5px #E8EAE9;"><span class="o">1</span>2.75</div>
<div class="t" style="left:1174.0px;top:1156.8px;font-size:30.3px;line-height:30.3px;font-weight:400;color:#000;-webkit-text-stroke:0.5px #E8EAE9;">300</div>
<div class="t" style="left:1174.0px;top:1193.5px;font-size:30.3px;line-height:30.3px;font-weight:400;color:#000;-webkit-text-stroke:0.5px #E8EAE9;">2.07</div>
<div class="t" style="left:1427.0px;top:1156.8px;font-size:30.3px;line-height:30.3px;font-weight:400;color:#000;-webkit-text-stroke:0.5px #E8EAE9;">220</div>
<div class="t" style="left:1427.0px;top:1193.5px;font-size:30.3px;line-height:30.3px;font-weight:400;color:#000;-webkit-text-stroke:0.5px #E8EAE9;">8.66<span class="o">1</span></div>
<div class="t" style="left:1695.0px;top:1156.8px;font-size:30.3px;line-height:30.3px;font-weight:400;color:#000;-webkit-text-stroke:0.5px #E8EAE9;">220</div>
<div class="t" style="left:1695.0px;top:1193.5px;font-size:30.3px;line-height:30.3px;font-weight:400;color:#000;-webkit-text-stroke:0.5px #E8EAE9;">8.66<span class="o">1</span></div>
</body></html>
